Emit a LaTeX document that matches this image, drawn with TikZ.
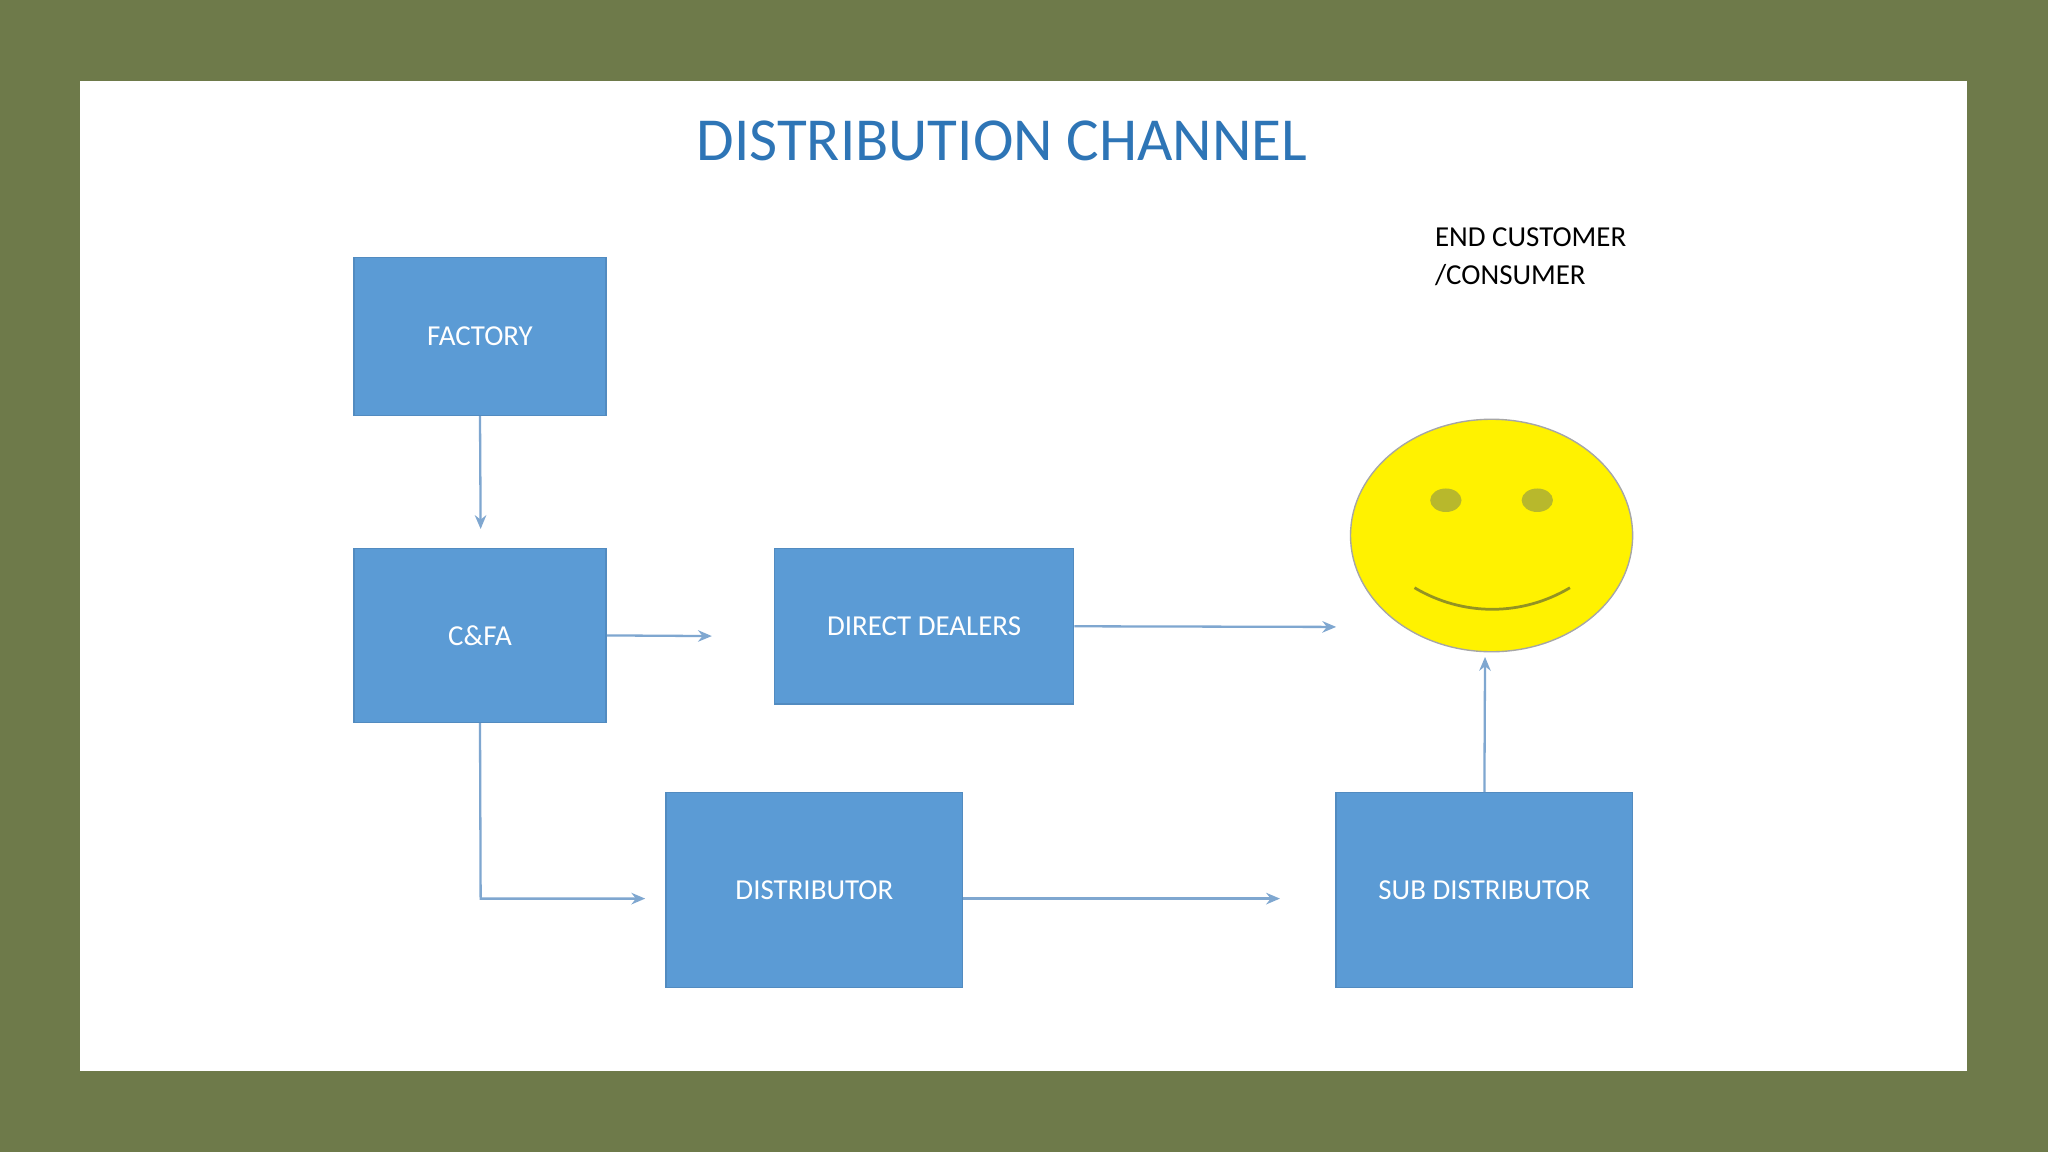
\documentclass[tikz,border=0pt]{standalone}
\usepackage{fontspec}
\setmainfont{Carlito}
\usetikzlibrary{arrows.meta}
\definecolor{olivebg}{HTML}{6E7A4A}
\definecolor{boxblue}{HTML}{5B9BD5}
\definecolor{titleblue}{HTML}{2E75B6}
\definecolor{linec}{HTML}{7FA7D0}
\definecolor{eyec}{HTML}{B8B82C}
\tikzset{
  x=0.01cm,y=-0.01cm,
  boxn/.style={fill=boxblue,draw=boxblue!90!black,line width=0.3pt,inner sep=0pt,text=white,font=\fontsize{6.3}{7}\selectfont},
  conn/.style={draw=linec,line width=0.5pt,-{Stealth[length=3pt,width=2.5pt]}},
}
\begin{document}
\begin{tikzpicture}
\fill[olivebg] (0,0) rectangle (1568,882);
\useasboundingbox (0,0) rectangle (1568,882);
\fill[white] (61,62) rectangle (1506,820);
\node[text=titleblue,font=\fontsize{13.3}{15}\selectfont] (title) at (767,108) {DISTRIBUTION CHANNEL};
\node[boxn,minimum width=1.93cm,minimum height=1.21cm] (fac) at (367.5,257.5) {FACTORY};
\node[boxn,minimum width=1.93cm,minimum height=1.33cm] (cfa) at (367.5,486.5) {C\&FA};
\node[boxn,minimum width=2.29cm,minimum height=1.19cm] (dd) at (707.5,479.5) {DIRECT DEALERS};
\node[boxn,minimum width=2.27cm,minimum height=1.49cm] (dist) at (623.5,681.5) {DISTRIBUTOR};
\node[boxn,minimum width=2.27cm,minimum height=1.49cm] (sub) at (1136.5,681.5) {SUB DISTRIBUTOR};
\node[anchor=north west,align=left,font=\fontsize{6.3}{8.2}\selectfont,inner sep=0pt] (endc) at (1098,174) {END CUSTOMER\\/CONSUMER};
% smiley
\draw[fill=yellow,draw=gray!70,line width=0.3pt] (1142,410) ellipse [x radius=108, y radius=89];
\coordinate (face) at (1142,410);
\fill[eyec] (1107,383) ellipse [x radius=12, y radius=9];
\fill[eyec] (1177,383) ellipse [x radius=12, y radius=9];
\draw[eyec!80!black,line width=0.6pt] (1083,450) .. controls (1120,472) and (1165,472) .. (1202,450);
% connectors
\coordinate (a1) at (368,405);
\coordinate (a2) at (545,487);
\coordinate (a3) at (1023,480);
\coordinate (c1) at (368,688);
\coordinate (a4) at (494,688);
\coordinate (a5) at (980,688);
\coordinate (a6) at (1137,503);
\draw[conn] (fac.south) -- (a1);
\draw[conn] (cfa.east) -- (a2);
\draw[conn] (dd.east) -- (a3);
\draw[conn] (cfa.south) -- (c1) -- (a4);
\draw[conn] (dist.east |- a5) -- (a5);
\draw[conn] (sub.north) -- (a6);
\end{tikzpicture}
\end{document}
